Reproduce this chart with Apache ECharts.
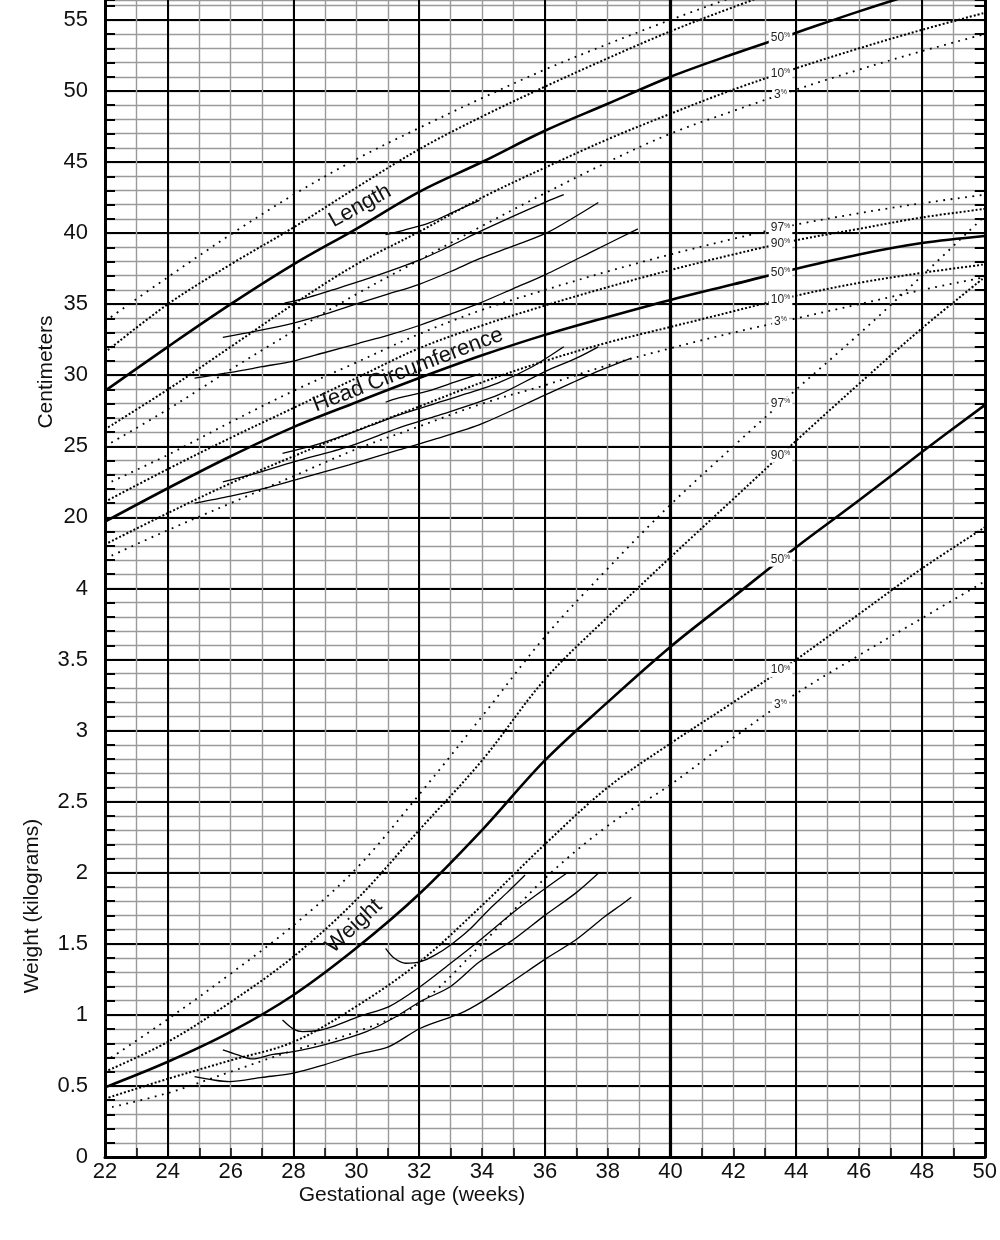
<!DOCTYPE html>
<html>
<head>
<meta charset="utf-8">
<title>Preterm growth chart</title>
<script src="https://cdn.jsdelivr.net/npm/echarts@6/dist/echarts.min.js"></script>
<style>
  html, body { margin: 0; padding: 0; background: #fff; }
  #chart { width: 1000px; height: 1240px; }
</style>
</head>
<body>
<div id="chart"></div>
<script>
// gestational age (weeks) used by the percentile curves
var weeks = [22, 24, 26, 28, 30, 32, 34, 36, 38, 40, 42, 44, 46, 48, 50];

// length percentiles (cm)
var len97 = [33.8, 36.9, 39.9, 42.7, 45.2, 47.4, 49.5, 51.5, 53.3, 55.0, 56.6, 58.0];
var len90 = [31.6, 35.0, 37.8, 40.4, 43.2, 45.9, 48.2, 50.3, 52.3, 54.2, 55.9, 57.5];
var len50 = [28.9, 32.0, 35.0, 37.8, 40.3, 42.9, 45.0, 47.2, 49.1, 51.0, 52.6, 54.1, 55.6, 57.0, 58.3];
var len10 = [26.2, 29.0, 32.0, 35.0, 37.8, 40.1, 42.5, 44.6, 46.6, 48.4, 50.1, 51.6, 53.0, 54.3, 55.5];
var len3  = [25.0, 27.6, 30.4, 33.1, 35.7, 38.1, 40.5, 42.8, 45.0, 47.0, 48.6, 50.1, 51.5, 52.8, 54.0];

// head circumference percentiles (cm)
var hc97 = [22.3, 24.4, 26.7, 28.9, 30.9, 32.9, 34.6, 36.0, 37.3, 38.5, 39.6, 40.6, 41.4, 42.1, 42.7];
var hc90 = [21.1, 23.4, 25.6, 27.7, 29.8, 31.9, 33.5, 34.9, 36.2, 37.4, 38.5, 39.5, 40.3, 41.1, 41.7];
var hc50 = [19.7, 22.05, 24.3, 26.35, 28.1, 29.8, 31.4, 32.84, 34.1, 35.3, 36.4, 37.5, 38.5, 39.3, 39.8];
var hc10 = [18.1, 20.3, 22.4, 24.3, 26.1, 27.8, 29.5, 31.0, 32.3, 33.4, 34.5, 35.6, 36.5, 37.2, 37.8];
var hc3  = [17.1, 19.1, 21.0, 22.9, 24.8, 26.4, 28.0, 29.3, 30.7, 31.9, 33.0, 34.0, 35.0, 36.0, 36.9];

// weight percentiles (kg)
var wt97 = [0.67, 0.97, 1.29, 1.63, 2.03, 2.55, 3.1, 3.66, 4.14, 4.59, 5.0, 5.4, 5.79, 6.2, 6.62];
var wt90 = [0.6, 0.81, 1.09, 1.41, 1.81, 2.3, 2.79, 3.36, 3.8, 4.22, 4.63, 5.04, 5.44, 5.83, 6.19];
var wt50 = [0.49, 0.67, 0.88, 1.14, 1.47, 1.85, 2.3, 2.79, 3.2, 3.59, 3.94, 4.29, 4.62, 4.96, 5.29];
var wt10 = [0.41, 0.55, 0.68, 0.81, 1.06, 1.37, 1.77, 2.2, 2.6, 2.91, 3.2, 3.5, 3.82, 4.14, 4.43];
var wt3  = [0.34, 0.45, 0.6, 0.75, 0.88, 1.08, 1.5, 1.96, 2.33, 2.62, 2.95, 3.26, 3.53, 3.79, 4.05];

// thin lines: [week, cm]
var lenLineA = [[30.93, 39.9], [31.5, 40.2], [32.3, 40.7], [33.1, 41.5], [33.92, 42.3]];
var lenLineB = [[27.71, 35.07], [28.5, 35.5], [29.24, 36.0], [30.5, 36.9], [32.0, 38.1], [33.0, 39.1], [33.92, 40.1], [35.0, 41.2], [36.04, 42.2], [36.6, 42.7]];
var lenLineC = [[25.75, 32.66], [26.8, 33.1], [28.0, 33.67], [29.0, 34.3], [30.08, 35.07], [31.0, 35.7], [32.0, 36.4], [33.0, 37.3], [33.92, 38.2], [35.0, 39.1], [36.04, 40.0], [37.0, 41.2], [37.7, 42.15]];
var lenLineD = [[24.85, 29.8], [26.0, 30.2], [27.0, 30.6], [28.0, 31.0], [29.0, 31.6], [30.08, 32.25], [31.0, 32.8], [32.0, 33.5], [33.0, 34.3], [33.92, 35.07], [35.0, 36.1], [36.04, 37.1], [37.5, 38.7], [38.96, 40.3]];

var hcLineA = [[30.93, 28.1], [31.35, 28.4], [32.3, 28.9], [33.1, 29.5], [33.94, 30.1]];
var hcLineB = [[27.65, 24.5], [28.7, 25.1], [29.77, 25.9], [30.5, 26.5], [31.35, 27.2], [32.5, 28.0], [33.5, 28.7], [34.5, 29.45], [35.6, 30.6], [36.6, 32.0]];
var hcLineC = [[25.75, 22.5], [26.8, 23.1], [28.0, 23.9], [29.77, 25.0], [31.35, 26.3], [32.5, 27.1], [34.5, 28.6], [36.0, 30.26], [37.0, 31.2], [37.7, 32.0]];
var hcLineD = [[24.85, 21.0], [26.0, 21.5], [27.0, 22.0], [28.0, 22.6], [29.77, 23.7], [31.35, 24.75], [32.5, 25.5], [34.0, 26.6], [36.0, 28.6], [37.5, 30.1], [38.75, 31.2]];

// thin lines: [week, kg]
var wtLine1 = [[24.85, 0.565], [25.5, 0.54], [25.96, 0.53], [27.0, 0.56], [28.0, 0.59], [29.0, 0.65], [30.0, 0.72], [31.04, 0.777], [32.04, 0.906], [33.31, 1.01], [34.0, 1.093], [35.0, 1.24], [36.06, 1.399], [37.0, 1.53], [37.9, 1.69], [38.4, 1.77], [38.75, 1.827]];
var wtLine2 = [[25.75, 0.753], [26.2, 0.72], [26.7, 0.69], [27.3, 0.72], [28.0, 0.741], [29.0, 0.79], [30.3, 0.88], [31.2, 0.98], [32.04, 1.094], [33.0, 1.2], [33.9, 1.37], [35.0, 1.53], [36.0, 1.7], [37.0, 1.86], [37.7, 1.996]];
var wtLine3 = [[27.65, 0.964], [28.0, 0.9], [28.29, 0.882], [28.8, 0.89], [29.24, 0.917], [30.1, 0.99], [31.04, 1.058], [32.04, 1.2], [33.0, 1.363], [33.9, 1.52], [35.16, 1.75], [36.69, 1.996]];
var wtLine4 = [[30.93, 1.468], [31.2, 1.4], [31.57, 1.363], [32.04, 1.374], [32.5, 1.42], [33.0, 1.492], [33.6, 1.6], [34.21, 1.738], [34.8, 1.86], [35.37, 1.984]];

// tick / grid settings
var majorWeeks = [24, 28, 32, 36, 40, 44, 48];
var labelWeek = 43.5;

// one shared vertical axis: kg*10 in the lower part, cm+25 in the upper part
function cmToAxis(c) { return c + 25; }
function kgToAxis(k) { return k * 10; }

function curve(vals, conv) {
  return vals.map(function (v, i) { return [weeks[i], conv(v)]; });
}
function pts(list, conv) {
  return list.map(function (p) { return [p[0], conv(p[1])]; });
}
function valueAt(data, x) {
  for (var i = 1; i < data.length; i++) {
    if (data[i][0] >= x) {
      var a = data[i - 1], b = data[i];
      return a[1] + (b[1] - a[1]) * (x - a[0]) / (b[0] - a[0]);
    }
  }
  return null;
}

var styles = {
  97: { width: 1.8, type: [1.8, 5.5] },
  90: { width: 2, type: [2, 2] },
  50: { width: 2.6, type: 'solid' },
  10: { width: 2, type: [2, 2] },
  3: { width: 1.8, type: [1.8, 5.5] }
};

function pctSeries(vals, conv, pct, labelled) {
  var data = curve(vals, conv);
  var s = {
    type: 'line',
    data: data,
    smooth: 0.35,
    showSymbol: false,
    silent: true,
    z: 3,
    lineStyle: { color: '#000', width: styles[pct].width, type: styles[pct].type, cap: 'butt' }
  };
  if (labelled) {
    s.markPoint = {
      symbol: 'circle',
      symbolSize: 1,
      itemStyle: { color: 'rgba(0,0,0,0)' },
      label: {
        show: true,
        position: 'inside',
        formatter: '{n|' + pct + '}{p|%}',
        backgroundColor: '#fff',
        padding: [1, 2],
        rich: {
          n: { fontSize: 12, color: '#222', fontFamily: 'Liberation Sans' },
          p: { fontSize: 7, color: '#222', verticalAlign: 'top', fontFamily: 'Liberation Sans' }
        }
      },
      data: [{ coord: [labelWeek, valueAt(data, labelWeek)] }]
    };
  }
  return s;
}

function thinSeries(list, conv) {
  return {
    type: 'line',
    data: pts(list, conv),
    smooth: 0.3,
    showSymbol: false,
    silent: true,
    z: 3,
    lineStyle: { color: '#000', width: 1.3 }
  };
}

function yLabel(v) {
  if (Math.abs(v % 5) > 1e-6) return '';
  if (v <= 40) return String(v / 10);
  if (v >= 45) return String(v - 25);
  return '';
}

var series = [
  {
    type: 'line',
    data: [[22, 0]],
    showSymbol: false,
    silent: true,
    z: 1,
    lineStyle: { width: 0 },
    markLine: {
      silent: true,
      symbol: ['none', 'none'],
      label: { show: false },
      lineStyle: { color: '#000', width: 2, type: 'solid' },
      data: majorWeeks.map(function (w) {
        return { xAxis: w, lineStyle: { color: '#000', width: w === 40 ? 3.2 : 2, type: 'solid' } };
      })
    }
  },
  pctSeries(len97, cmToAxis, 97, false),
  pctSeries(len90, cmToAxis, 90, false),
  pctSeries(len50, cmToAxis, 50, true),
  pctSeries(len10, cmToAxis, 10, true),
  pctSeries(len3, cmToAxis, 3, true),
  pctSeries(hc97, cmToAxis, 97, true),
  pctSeries(hc90, cmToAxis, 90, true),
  pctSeries(hc50, cmToAxis, 50, true),
  pctSeries(hc10, cmToAxis, 10, true),
  pctSeries(hc3, cmToAxis, 3, true),
  pctSeries(wt97, kgToAxis, 97, true),
  pctSeries(wt90, kgToAxis, 90, true),
  pctSeries(wt50, kgToAxis, 50, true),
  pctSeries(wt10, kgToAxis, 10, true),
  pctSeries(wt3, kgToAxis, 3, true),
  thinSeries(lenLineA, cmToAxis),
  thinSeries(lenLineB, cmToAxis),
  thinSeries(lenLineC, cmToAxis),
  thinSeries(lenLineD, cmToAxis),
  thinSeries(hcLineA, cmToAxis),
  thinSeries(hcLineB, cmToAxis),
  thinSeries(hcLineC, cmToAxis),
  thinSeries(hcLineD, cmToAxis),
  thinSeries(wtLine1, kgToAxis),
  thinSeries(wtLine2, kgToAxis),
  thinSeries(wtLine3, kgToAxis),
  thinSeries(wtLine4, kgToAxis)
];

var font = 'Liberation Sans, Arial, sans-serif';
var chart = echarts.init(document.getElementById('chart'));
chart.setOption({
  animation: false,
  backgroundColor: '#fff',
  textStyle: { fontFamily: font },
  grid: { left: 105, right: 12, top: 0, bottom: 83 },
  xAxis: [
    {
      type: 'value', min: 22, max: 50, interval: 1,
      axisLine: { onZero: false, lineStyle: { color: '#000', width: 3 } },
      axisTick: { inside: true, length: 9, lineStyle: { color: '#000', width: 1.5 } },
      axisLabel: { show: false },
      splitLine: { lineStyle: { color: '#9a9a9a', width: 1.4 } }
    },
    {
      type: 'value', min: 22, max: 50, interval: 2, position: 'bottom',
      axisLine: { show: false, onZero: false },
      axisTick: { show: false },
      axisLabel: { fontSize: 22, color: '#111', margin: 4, fontFamily: font },
      splitLine: { show: false }
    }
  ],
  yAxis: [
    {
      type: 'value', min: 0, max: 81.4, interval: 1, position: 'left',
      axisLine: { show: true, onZero: false, lineStyle: { color: '#000', width: 3 } },
      axisTick: { inside: true, length: 10, lineStyle: { color: '#000', width: 2 } },
      axisLabel: { show: false },
      splitLine: { lineStyle: { color: '#9a9a9a', width: 1.4 } }
    },
    {
      type: 'value', min: 0, max: 81.4, interval: 5, position: 'left',
      axisLine: { show: false, onZero: false },
      axisTick: { show: false },
      axisLabel: { fontSize: 22, color: '#111', margin: 17, formatter: yLabel, fontFamily: font },
      splitLine: { show: true, showMaxLine: false, lineStyle: { color: '#000', width: 2 } }
    },
    {
      type: 'value', min: 0, max: 81.4, interval: 1, position: 'right',
      axisLine: { show: true, onZero: false, lineStyle: { color: '#000', width: 3 } },
      axisTick: { inside: true, length: 10, lineStyle: { color: '#000', width: 2 } },
      axisLabel: { show: false },
      splitLine: { show: false }
    }
  ],
  graphic: [
    { type: 'text', x: 360, y: 206, rotation: 29 * Math.PI / 180, z: 10,
      style: { text: 'Length', font: '22px ' + font, fill: '#111', align: 'center', verticalAlign: 'middle' } },
    { type: 'text', x: 408, y: 370, rotation: 21 * Math.PI / 180, z: 10,
      style: { text: 'Head Circumference', font: '22px ' + font, fill: '#111', align: 'center', verticalAlign: 'middle' } },
    { type: 'text', x: 354, y: 926, rotation: 43 * Math.PI / 180, z: 10,
      style: { text: 'Weight', font: '22px ' + font, fill: '#111', align: 'center', verticalAlign: 'middle' } },
    { type: 'text', x: 46, y: 372, rotation: Math.PI / 2,
      style: { text: 'Centimeters', font: '21px ' + font, fill: '#111', align: 'center', verticalAlign: 'middle' } },
    { type: 'text', x: 32, y: 906, rotation: Math.PI / 2,
      style: { text: 'Weight (kilograms)', font: '21px ' + font, fill: '#111', align: 'center', verticalAlign: 'middle' } },
    { type: 'text', x: 412, y: 1195,
      style: { text: 'Gestational age (weeks)', font: '21px ' + font, fill: '#111', align: 'center', verticalAlign: 'middle' } }
  ],
  series: series
});
</script>
</body>
</html>
